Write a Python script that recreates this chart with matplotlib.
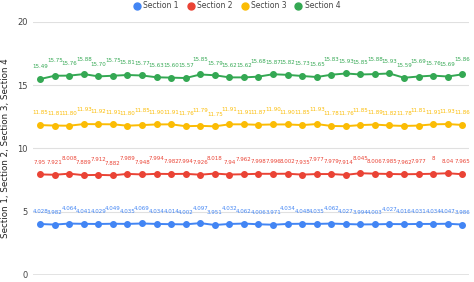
import matplotlib
matplotlib.use("Agg")
import matplotlib.pyplot as plt

# Data (30 points per section)
section1 = [4.028, 3.982, 4.064, 4.041, 4.029, 4.049, 4.035, 4.069, 4.034, 4.014,
            4.002, 4.097, 3.951, 4.032, 4.062, 4.006, 3.971, 4.034, 4.048, 4.035,
            4.062, 4.027, 3.994, 4.003, 4.027, 4.016, 4.031, 4.034, 4.047, 3.986]
section2 = [7.95, 7.921, 8.008, 7.889, 7.912, 7.882, 7.989, 7.948, 7.994, 7.982,
            7.994, 7.926, 8.018, 7.94, 7.962, 7.998, 7.996, 8.002, 7.935, 7.977,
            7.979, 7.914, 8.045, 8.006, 7.985, 7.962, 7.977, 8, 8.04, 7.965]
section3 = [11.85, 11.81, 11.80, 11.93, 11.92, 11.91, 11.80, 11.85, 11.90, 11.91,
            11.76, 11.79, 11.75, 11.91, 11.91, 11.87, 11.90, 11.90, 11.85, 11.93,
            11.78, 11.76, 11.85, 11.89, 11.82, 11.78, 11.81, 11.91, 11.93, 11.86]
section4 = [15.49, 15.75, 15.76, 15.88, 15.70, 15.75, 15.81, 15.77, 15.63, 15.60,
            15.57, 15.85, 15.79, 15.62, 15.62, 15.68, 15.87, 15.82, 15.73, 15.65,
            15.83, 15.93, 15.85, 15.88, 15.93, 15.59, 15.69, 15.76, 15.69, 15.86]

series_names = ["Section 1", "Section 2", "Section 3", "Section 4"]
series_data = [section1, section2, section3, section4]
colors = ["#4285F4", "#EA4335", "#FBBC04", "#34A853"]
y_ticks = [0, 5, 10, 15, 20]


def fmt(v, fixed):
    if fixed:
        return f"{v:.2f}"
    return f"{v:.3f}".rstrip("0").rstrip(".")


fig = plt.figure(figsize=(4.74, 2.82), dpi=100)
ax = fig.add_axes([0.07, 0.025, 0.92, 0.897])

x = list(range(len(section1)))
for k, (name, vals, c) in enumerate(zip(series_names, series_data, colors)):
    ax.plot(x, vals, color=c, lw=1.4, marker="o", ms=4, label=name, zorder=3)
    last_top = False
    for i, v in enumerate(vals):
        # raise a label a little when it sits above its left neighbour
        lift = 0
        if i > 0 and v > vals[i - 1] + 0.02 and not last_top:
            lift = 2
            last_top = True
        else:
            last_top = False
        ax.annotate(fmt(v, k >= 2), (i, v), xytext=(0, 7 + lift),
                    textcoords="offset points", ha="center", va="bottom",
                    fontsize=4.0, color=c, zorder=4)

ax.set_xlim(-0.48, len(section1) - 0.52)
ax.set_ylim(0, 20)
ax.set_yticks(y_ticks)
ax.set_xticks([])
ax.grid(axis="y", color="#e0e0e0", lw=0.8)
ax.axhline(0, color="#333333", lw=0.9, zorder=2)
for s in ax.spines.values():
    s.set_visible(False)
ax.tick_params(axis="y", length=0, labelsize=6, labelcolor="#444444", pad=4)
ax.set_ylabel("Section 1, Section 2, Section 3, Section 4", fontsize=6.3,
              color="#222222", labelpad=5)

fig.legend(loc="upper center", bbox_to_anchor=(0.5, 1.02), ncol=4, frameon=False,
           fontsize=5.5, handlelength=0.8, handletextpad=0.4, columnspacing=1.2,
           labelcolor="#444444")
leg = fig.legends[0]
for h in leg.legend_handles:
    h.set_linestyle("")
    h.set_markersize(5)

fig.savefig("out.png", dpi=100)
